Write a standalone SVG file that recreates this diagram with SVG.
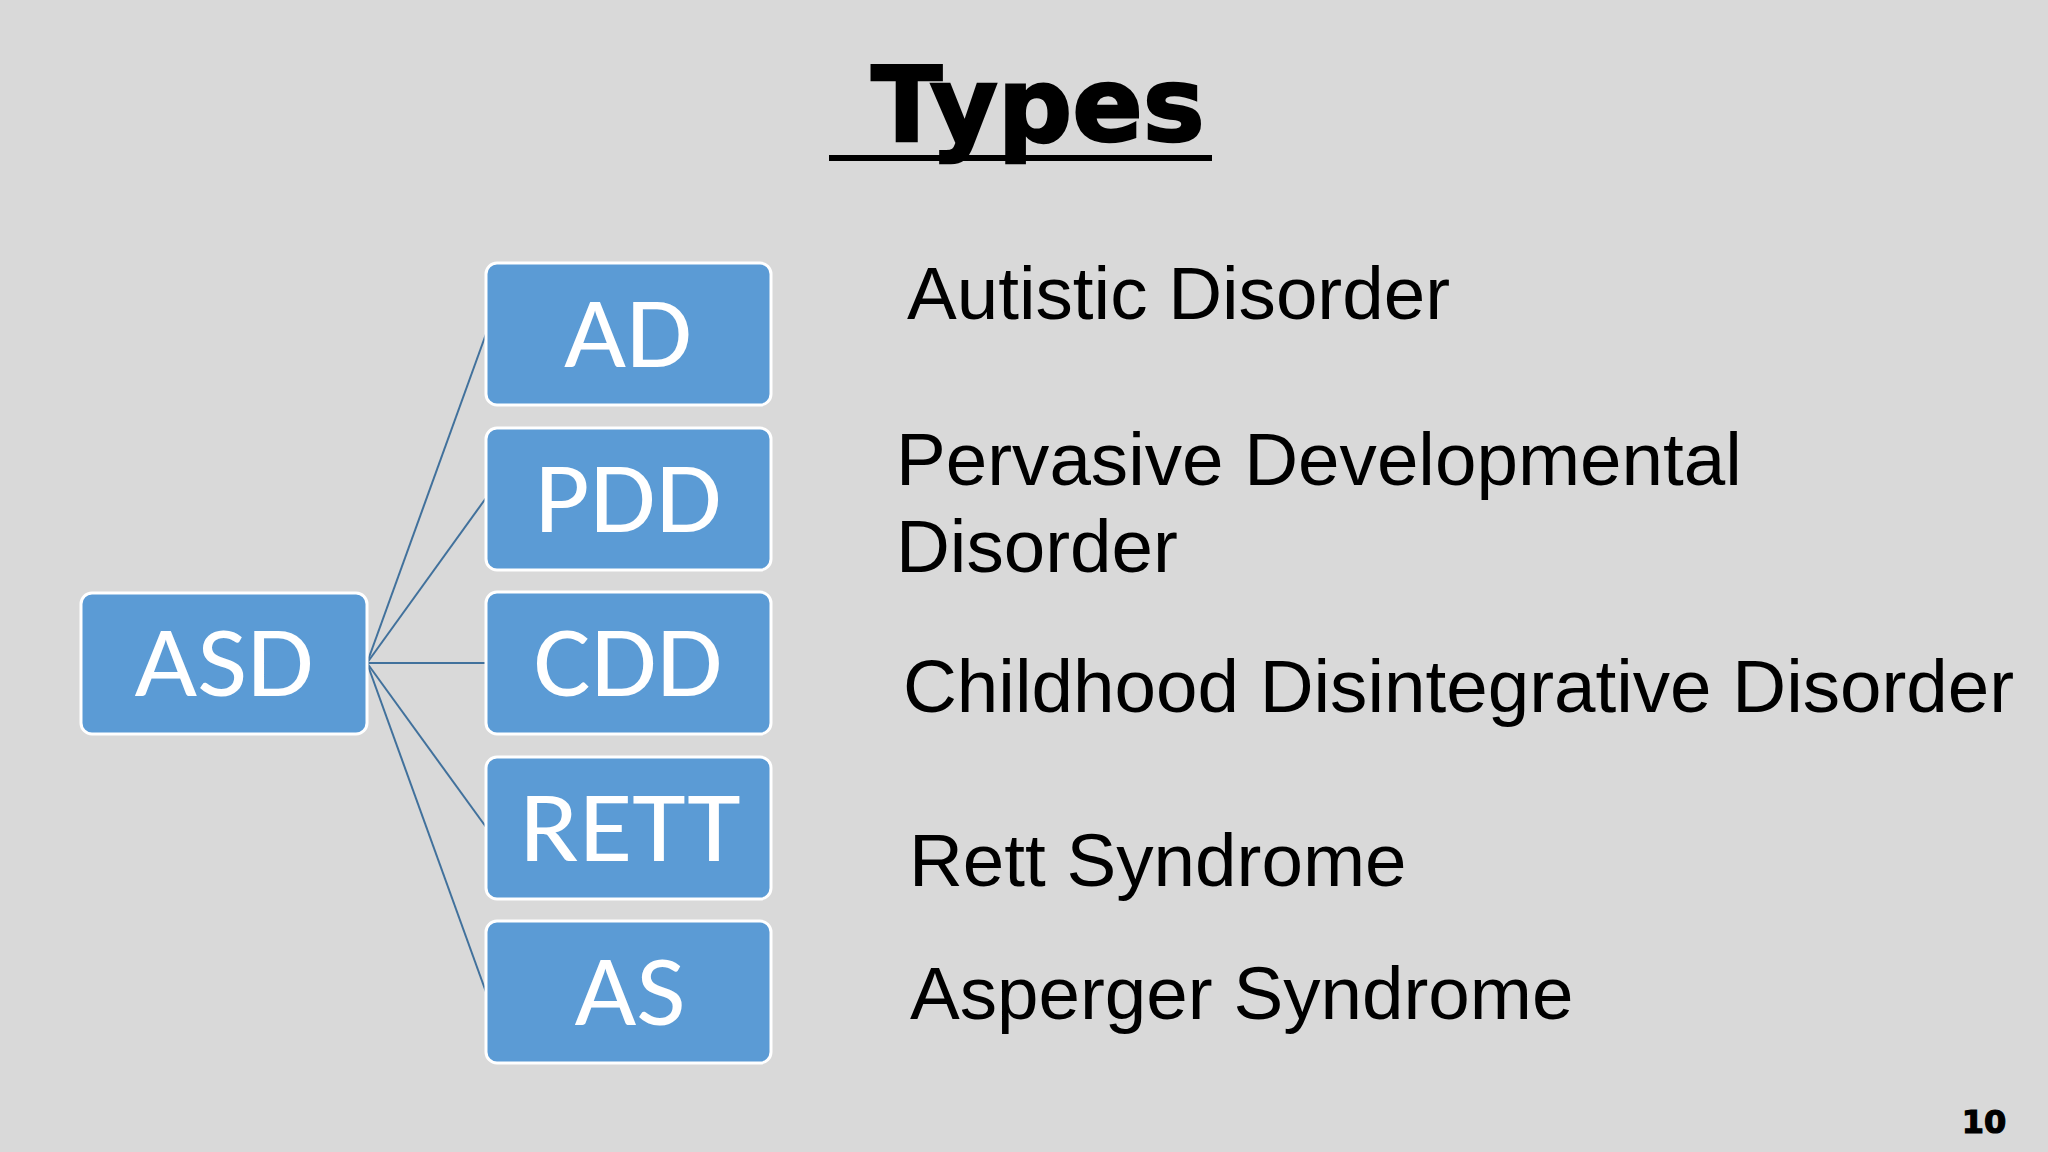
<svg xmlns="http://www.w3.org/2000/svg" width="2048" height="1152" viewBox="0 0 2048 1152">
  <style>
    .box { fill: #5B9BD5; stroke: #FFFFFF; stroke-width: 3; }
    .lbl { font-family: Carlito, Lato, "Open Sans", sans-serif; font-size: 100px; fill: #FFFFFF; text-anchor: middle; }
    .desc { font-family: "Liberation Sans", Arial, sans-serif; font-size: 74.6px; fill: #000000; }
    .conn { stroke: #41719C; stroke-width: 2; fill: none; }
  </style>
  <rect width="2048" height="1152" fill="#D9D9D9"/>
  <g id="title">
    <text x="1038" y="141" font-family="'DejaVu Sans', 'Liberation Sans', sans-serif" font-weight="bold" font-size="104" text-anchor="middle" fill="#000" stroke="#000" stroke-width="2.5">Types</text>
    <rect x="829" y="155" width="383" height="6" fill="#000"/>
  </g>
  <g id="connectors">
    <line class="conn" x1="367" y1="663" x2="486" y2="334"/>
    <line class="conn" x1="367" y1="663" x2="486" y2="498"/>
    <line class="conn" x1="367" y1="663" x2="486" y2="663"/>
    <line class="conn" x1="367" y1="663" x2="486" y2="827"/>
    <line class="conn" x1="367" y1="663" x2="486" y2="992"/>
  </g>
  <g id="node-asd">
    <rect class="box" x="81" y="593" width="286" height="141" rx="11"/>
    <text class="lbl" x="224" y="696" textLength="179" lengthAdjust="spacingAndGlyphs">ASD</text>
  </g>
  <g id="node-ad">
    <rect class="box" x="486" y="263" width="285" height="142" rx="11"/>
    <text class="lbl" x="628" y="367" textLength="128" lengthAdjust="spacingAndGlyphs">AD</text>
  </g>
  <g id="node-pdd">
    <rect class="box" x="486" y="428" width="285" height="142" rx="11"/>
    <text class="lbl" x="628" y="532" textLength="187" lengthAdjust="spacingAndGlyphs">PDD</text>
  </g>
  <g id="node-cdd">
    <rect class="box" x="486" y="592" width="285" height="142" rx="11"/>
    <text class="lbl" x="628" y="696" textLength="189" lengthAdjust="spacingAndGlyphs">CDD</text>
  </g>
  <g id="node-rett">
    <rect class="box" x="486" y="757" width="285" height="142" rx="11"/>
    <text class="lbl" x="630" y="861" textLength="221" lengthAdjust="spacingAndGlyphs">RETT</text>
  </g>
  <g id="node-as">
    <rect class="box" x="486" y="921" width="285" height="142" rx="11"/>
    <text class="lbl" x="630" y="1025" textLength="111" lengthAdjust="spacingAndGlyphs">AS</text>
  </g>
  <g id="descriptions">
    <text class="desc" x="907" y="319">Autistic Disorder</text>
    <text class="desc" x="896" y="485">Pervasive Developmental</text>
    <text class="desc" x="896" y="572">Disorder</text>
    <text class="desc" x="903" y="712">Childhood Disintegrative Disorder</text>
    <text class="desc" x="909" y="886">Rett Syndrome</text>
    <text class="desc" x="910" y="1019">Asperger Syndrome</text>
  </g>
  <text x="1984" y="1133" font-family="'DejaVu Sans', 'Liberation Sans', sans-serif" font-weight="bold" font-size="32" text-anchor="middle" fill="#000" stroke="#000" stroke-width="1.2">10</text>
</svg>
